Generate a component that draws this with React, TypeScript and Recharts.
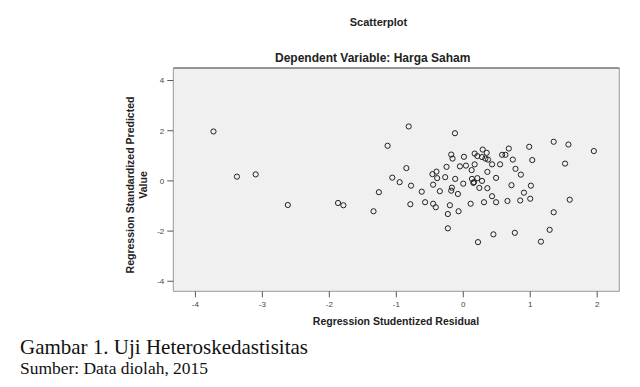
import React from 'react';
import { ScatterChart, Scatter, XAxis, YAxis, CartesianGrid, ReferenceLine } from 'recharts';

// Regression Studentized Residual (x) and Regression Standardized Predicted Value (y)
const residuals = [
  -3.73, -3.38, -3.10, -2.62,
  -0.815, -0.124, -1.13, -0.18, -0.16, -0.85, -0.25, -0.05, -0.40, -0.46, -0.39, -0.27, -0.12,
  -1.06, -0.95, -0.78, -0.45, -1.26, -0.62, -0.35, -0.17, -0.18, -0.08, -1.87, -1.79, -1.34,
  -0.79, -0.57, -0.45, -0.41, -0.20, -0.23, -0.07, -0.23,
  1.35, 1.57, 0.985, 1.95, 0.68, 0.29, 0.17, 0.35, 0.01, 0.21, 0.28, 0.33, 0.37, 0.58, 0.63,
  0.74, 1.03, 1.52, 0.04, 0.17, 0.43, 0.55, 0.125, 0.36, 0.78, 0.86, 0.49, 0.0, 0.13, 0.21,
  0.28, 0.16, 0.15, 0.24, 0.36, 0.72, 1.01, 0.906, 0.43, 0.11, 0.31, 0.49, 0.66, 0.85, 1.0,
  1.59, 1.35, 1.29, 0.45, 0.77, 0.22, 1.16,
];
const predicted = [
  1.97, 0.17, 0.26, -0.96,
  2.17, 1.90, 1.40, 1.05, 0.89, 0.51, 0.56, 0.58, 0.37, 0.27, 0.11, 0.15, 0.08,
  0.13, -0.05, -0.19, -0.15, -0.45, -0.43, -0.41, -0.27, -0.39, -0.52, -0.88, -0.97, -1.21,
  -0.93, -0.85, -0.91, -1.05, -0.97, -1.32, -1.21, -1.89,
  1.56, 1.45, 1.36, 1.19, 1.29, 1.25, 1.09, 1.12, 0.96, 0.99, 0.95, 0.89, 0.85, 1.04, 1.04,
  0.85, 0.83, 0.69, 0.61, 0.66, 0.66, 0.66, 0.43, 0.36, 0.48, 0.25, 0.12, -0.11, 0.08, 0.11,
  0.0, -0.05, -0.08, -0.28, -0.29, -0.17, -0.19, -0.47, -0.61, -0.91, -0.85, -0.85, -0.80, -0.78, -0.71,
  -0.75, -1.25, -1.95, -2.13, -2.07, -2.44, -2.42,
];
const xTicks = [-4, -3, -2, -1, 0, 1, 2];
const yTicks = [-4, -2, 0, 2, 4];
const xDomain = [-4.33, 2.33];
const yDomain = [-4.4, 4.5];

const title = 'Scatterplot';
const subtitle = 'Dependent Variable: Harga Saham';
const xLabel = 'Regression Studentized Residual';
const yLabel1 = 'Regression Standardized Predicted';
const yLabel2 = 'Value';
const caption = 'Gambar 1. Uji Heteroskedastisitas';
const source = 'Sumber: Data diolah, 2015';

const data = residuals.map((x, i) => ({ x, y: predicted[i] }));

const sans = '"Liberation Sans", Arial, sans-serif';
const serif = '"Liberation Serif", "Times New Roman", serif';

const Ring = (props: any) => (
  <circle cx={props.cx} cy={props.cy} r={2.6} fill="none" stroke="#222" strokeWidth={1} />
);

export default function App() {
  const tickStyle = { fontSize: 8, fill: '#444', fontFamily: sans };
  return (
    <div style={{ position: 'absolute', left: 0, top: 0, width: 640, height: 387, background: '#fff' }}>
      <ScatterChart
        width={640}
        height={387}
        margin={{ top: 68, right: 20.7, bottom: 65.7, left: 113.3 }}
      >
        <CartesianGrid fill="#f0f0f0" horizontal={false} vertical={false} />
        <XAxis
          type="number"
          dataKey="x"
          domain={xDomain}
          ticks={xTicks}
          height={30}
          tickSize={6}
          tickMargin={4}
          allowDataOverflow
          axisLine={{ stroke: '#9a9a9a' }}
          tickLine={{ stroke: '#555' }}
          tick={tickStyle}
          interval={0}
        />
        <YAxis
          type="number"
          dataKey="y"
          domain={yDomain}
          ticks={yTicks}
          width={60}
          tickSize={6}
          tickMargin={3}
          allowDataOverflow
          axisLine={{ stroke: '#9a9a9a' }}
          tickLine={{ stroke: '#555' }}
          tick={tickStyle}
          interval={0}
        />
        <ReferenceLine x={xDomain[1]} stroke="#9a9a9a" />
        <ReferenceLine y={yDomain[1]} stroke="#333" strokeWidth={1.2} />
        <Scatter data={data} shape={Ring} isAnimationActive={false} />
      </ScatterChart>
      <svg
        width={640}
        height={387}
        style={{ position: 'absolute', left: 0, top: 0, pointerEvents: 'none' }}
      >
        <text x={378.5} y={26} textAnchor="middle" fontFamily={sans} fontWeight="bold" fontSize={11} fill="#222">
          {title}
        </text>
        <text x={372.7} y={62} textAnchor="middle" fontFamily={sans} fontWeight="bold" fontSize={12} fill="#222">
          {subtitle}
        </text>
        <text x={396} y={325} textAnchor="middle" fontFamily={sans} fontWeight="bold" fontSize={10.5} fill="#222">
          {xLabel}
        </text>
        <g transform="translate(134,185) rotate(-90)">
          <text x={0} y={0} textAnchor="middle" fontFamily={sans} fontWeight="bold" fontSize={10.5} fill="#222">
            {yLabel1}
          </text>
          <text x={0} y={13} textAnchor="middle" fontFamily={sans} fontWeight="bold" fontSize={10.5} fill="#222">
            {yLabel2}
          </text>
        </g>
        <text x={20} y={354} fontFamily={serif} fontSize={22} fill="#111" textLength={288} lengthAdjust="spacingAndGlyphs">
          {caption}
        </text>
        <text x={20} y={374} fontFamily={serif} fontSize={17.5} fill="#111" textLength={188} lengthAdjust="spacingAndGlyphs">
          {source}
        </text>
      </svg>
    </div>
  );
}
